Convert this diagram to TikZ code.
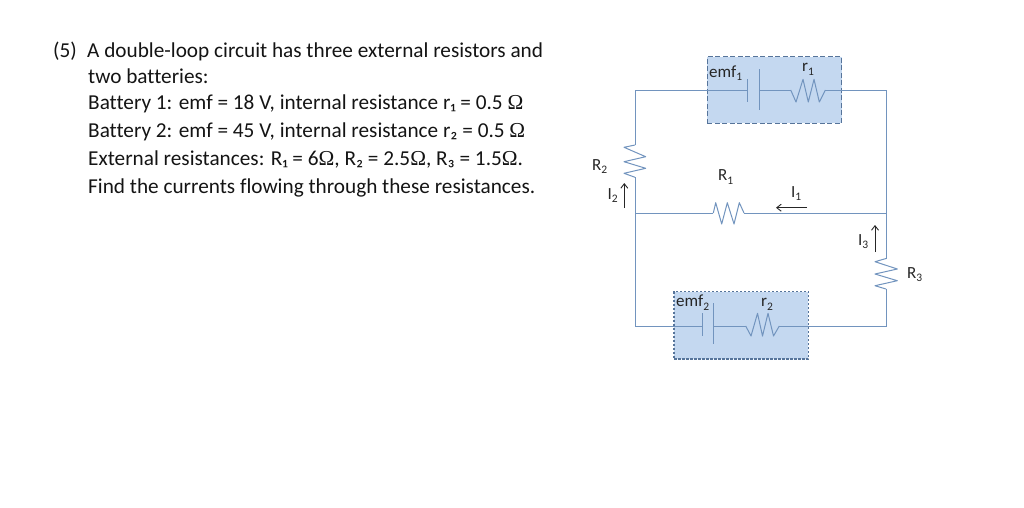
\documentclass[tikz,border=0pt]{standalone}
\usepackage{fontspec}
\setmainfont[Ligatures=NoCommon]{Carlito}
\newfontfamily\omfont{Liberation Serif}
\usetikzlibrary{arrows.meta}
\definecolor{wireblue}{HTML}{7294BE}
\definecolor{boxblue}{HTML}{C4D8F0}
\definecolor{boxedge}{HTML}{56749A}
\tikzset{
  wire/.style={draw=wireblue,line width=1pt},
  plate/.style={draw=wireblue,line width=1pt},
  boxa/.style={fill=boxblue,draw=boxedge,line width=1.2pt,dash pattern=on 5pt off 2.5pt},
  boxb/.style={fill=boxblue,draw=boxedge,line width=1.2pt,dash pattern=on 2.5pt off 1.5pt},
  para/.style={anchor=base west,inner sep=0pt,font=\fontsize{21.25}{24}\selectfont,text=black!92},
  lab/.style={anchor=base west,inner sep=0pt,font=\fontsize{17}{18}\selectfont,text=black!85},
  cur/.style={draw=black!85,line width=0.9pt,-{Straight Barb[length=4.5pt,width=7pt]}},
}
\newcommand{\sbs}[1]{\raisebox{-3.5pt}{\fontsize{11.5}{12}\selectfont #1}}
\newcommand{\ohm}{{\omfont Ω}}
\begin{document}
\begin{tikzpicture}[x=1pt,y=-1pt]
\useasboundingbox (0,0) rectangle (1024,507);
% text
\node[para] (t0) at (53,57) {(5)};
\node[para] (t1) at (87,57) {A double-loop circuit has three external resistors and};
\node[para] (t2) at (88,83) {two batteries:};
\node[para] (t3) at (88,109) {Battery 1: emf = 18 V, internal resistance r₁ = 0.5 \ohm};
\node[para] (t4) at (88,137) {Battery 2: emf = 45 V, internal resistance r₂ = 0.5 \ohm};
\node[para] (t5) at (88,165) {External resistances: R₁ = 6\ohm, R₂ = 2.5\ohm, R₃ = 1.5\ohm.};
\node[para] (t6) at (88,193) {Find the currents flowing through these resistances.};
% boxes
\node[boxa,minimum width=134.4pt,minimum height=66.6pt,inner sep=0pt,outer sep=0pt] (box1) at (774.5,90) {};
\node[boxb,minimum width=134.4pt,minimum height=67.3pt,inner sep=0pt,outer sep=0pt] (box2) at (741.2,325.4) {};
% junctions
\coordinate (tl) at (635,90);
\coordinate (tr) at (886,90);
\coordinate (ml) at (635,213);
\coordinate (mr) at (886,213);
\coordinate (bl) at (635,326);
\coordinate (br) at (886,326);
\coordinate (b1a) at (747,90);
\coordinate (b1b) at (759,90);
\coordinate (r1a) at (790.7,90);
\coordinate (r1b) at (825.3,90);
\coordinate (b2a) at (702,326);
\coordinate (b2b) at (713,326);
\coordinate (r2a) at (745.7,326);
\coordinate (r2b) at (779.3,326);
\coordinate (R1a) at (713.3,213);
\coordinate (R1b) at (744,213);
\coordinate (R2a) at (635,145);
\coordinate (R2b) at (635,177.3);
\coordinate (R3a) at (886,258.5);
\coordinate (R3b) at (886,289);
% wires
\draw[wire] (b1a) -- (tl) -- (R2a);
\draw[wire] (R2b) -- (ml) -- (R1a);
\draw[wire] (R1b) -- (mr);
\draw[wire] (ml) -- (bl) -- (b2a);
\draw[wire] (b1b) -- (r1a);
\draw[wire] (r1b) -- (tr) -- (R3a);
\draw[wire] (R3b) -- (br) -- (r2b);
\draw[wire] (b2b) -- (r2a);
% plates
\draw[plate] (747,79) -- (747,102);
\draw[plate] (759,69) -- (759,110);
\draw[plate] (702,313) -- (702,336);
\draw[plate] (713,303.3) -- (713,344);
% resistors
\draw[wire,line join=round] (r1a) -- (796,102) -- (803,79.3) -- (808.3,102) -- (814,79.3) -- (819.3,102) -- (r1b);
\draw[wire,line join=round] (r2a) -- (751,336) -- (757.5,313.3) -- (762.5,336) -- (768,313.3) -- (773.5,336) -- (r2b);
\draw[wire,line join=round] (R1a) -- (715.7,202.7) -- (721.7,224) -- (727.3,202.7) -- (734,224) -- (739.3,202.7) -- (R1b);
\draw[wire,line join=round] (R2a) -- (624,147.3) -- (645.7,156.7) -- (624,161.7) -- (645.7,168.3) -- (624,173.3) -- (R2b);
\draw[wire,line join=round] (R3a) -- (875,261.7) -- (897.3,269) -- (875,274) -- (897.3,280.7) -- (875,285.7) -- (R3b);
% current arrows
\coordinate (i1s) at (807,207.7);
\coordinate (i1e) at (776,207.7);
\coordinate (i2s) at (624.3,208);
\coordinate (i2e) at (624.3,183);
\coordinate (i3s) at (875,252);
\coordinate (i3e) at (875,225);
\draw[cur] (i1s) -- (i1e);
\draw[cur] (i2s) -- (i2e);
\draw[cur] (i3s) -- (i3e);
% labels
\node[lab] (lemf1) at (709,77) {emf\sbs{1}};
\node[lab] (lr1) at (802,71.7) {r\sbs{1}};
\node[lab] (lR2) at (592,170) {R\sbs{2}};
\node[lab] (lI2) at (607.5,199) {I\sbs{2}};
\node[lab] (lR1) at (718,180.7) {R\sbs{1}};
\node[lab] (lI1) at (791,197) {I\sbs{1}};
\node[lab] (lI3) at (858,245) {I\sbs{3}};
\node[lab] (lR3) at (907,278.3) {R\sbs{3}};
\node[lab] (lemf2) at (676,306.7) {emf\sbs{2}};
\node[lab] (lr2) at (761,306.7) {r\sbs{2}};
\end{tikzpicture}
\end{document}
